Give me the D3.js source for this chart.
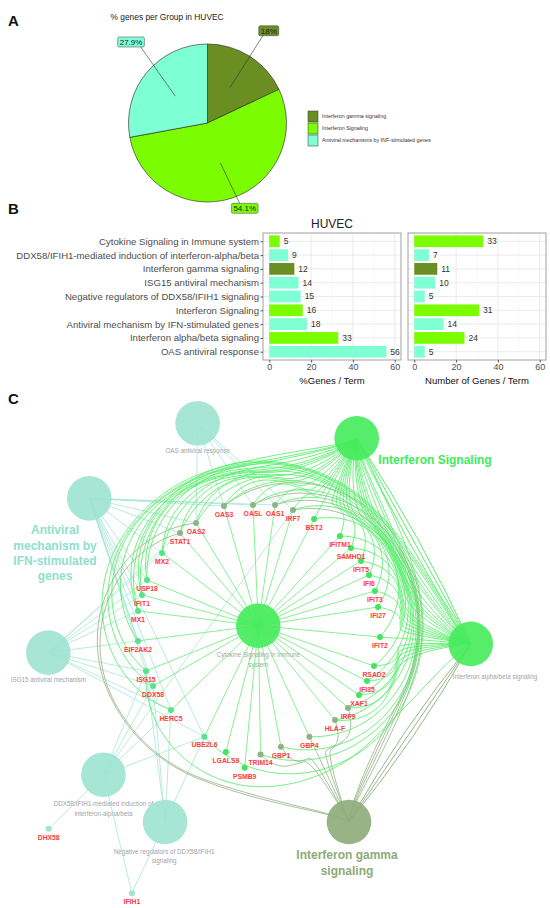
<!DOCTYPE html>
<html>
<head>
<meta charset="utf-8">
<script src="https://cdn.jsdelivr.net/npm/d3@7"></script>
<style>
	body { margin: 0; background: #fff; }
	svg { display: block; font-family: "Liberation Sans", Arial, sans-serif; }
</style>
</head>
<body>
<svg id="fig" width="550" height="908"></svg>
<script>
/* global d3 */

// ---- panel A : % genes per group ----
const groups = ['Interferon gamma signaling', 'Interferon Signaling', 'Antiviral mechanisms by INF-stimulated genes'];
const groupPct = [18, 54.1, 27.9];
const groupPctLabels = ['18%', '54.1%', '27.9%'];

// ---- panel B : enriched terms ----
const terms = [
	'Cytokine Signaling in Immune system',
	'DDX58/IFIH1-mediated induction of interferon-alpha/beta',
	'Interferon gamma signaling',
	'ISG15 antiviral mechanism',
	'Negative regulators of DDX58/IFIH1 signaling',
	'Interferon Signaling',
	'Antiviral mechanism by IFN-stimulated genes',
	'Interferon alpha/beta signaling',
	'OAS antiviral response',
];
const termGroup = [1, 2, 0, 2, 2, 1, 2, 1, 2]; // index into groups
const pctGenes = [5, 9, 12, 14, 15, 16, 18, 33, 56];
const nGenes = [33, 7, 11, 10, 5, 31, 14, 24, 5];
const xTicks = [0, 20, 40, 60];

// ---- panel C : term / gene network ----
const genes = ['OAS3', 'OASL', 'OAS1', 'IRF7', 'BST2', 'IFITM1', 'SAMHD1', 'IFIT5', 'IFI6', 'IFIT3', 'IFI27',
	'IFIT2', 'RSAD2', 'IFI35', 'XAF1', 'IRF9', 'HLA-F', 'GBP4', 'GBP1', 'TRIM14', 'PSMB9', 'LGALS9', 'UBE2L6',
	'HERC5', 'DDX58', 'ISG15', 'EIF2AK2', 'MX1', 'IFIT1', 'USP18', 'MX2', 'STAT1', 'OAS2', 'DHX58', 'IFIH1'];

const cytokineGenes = ['OAS3', 'OASL', 'OAS1', 'IRF7', 'BST2', 'IFITM1', 'SAMHD1', 'IFIT5', 'IFI6', 'IFIT3', 'IFI27',
	'IFIT2', 'RSAD2', 'IFI35', 'XAF1', 'IRF9', 'HLA-F', 'GBP4', 'GBP1', 'TRIM14', 'PSMB9', 'LGALS9', 'UBE2L6',
	'HERC5', 'DDX58', 'ISG15', 'EIF2AK2', 'MX1', 'IFIT1', 'USP18', 'MX2', 'STAT1', 'OAS2'];
const ddx58InductionGenes = ['DDX58', 'IFIH1', 'DHX58', 'ISG15', 'IRF7', 'UBE2L6', 'HERC5'];
const ifnGammaGenes = ['OAS1', 'OAS2', 'OAS3', 'OASL', 'IRF7', 'IRF9', 'HLA-F', 'GBP1', 'GBP4', 'TRIM14', 'STAT1'];
const isg15Genes = ['ISG15', 'EIF2AK2', 'MX1', 'MX2', 'USP18', 'IFIT1', 'DDX58', 'HERC5', 'UBE2L6', 'STAT1'];
const negRegGenes = ['DDX58', 'IFIH1', 'ISG15', 'UBE2L6', 'HERC5'];
const ifnSignalingGenes = ['OAS3', 'OASL', 'OAS1', 'IRF7', 'BST2', 'IFITM1', 'SAMHD1', 'IFIT5', 'IFI6', 'IFIT3', 'IFI27',
	'IFIT2', 'RSAD2', 'IFI35', 'XAF1', 'IRF9', 'HLA-F', 'GBP4', 'GBP1', 'TRIM14', 'UBE2L6',
	'HERC5', 'DDX58', 'ISG15', 'EIF2AK2', 'MX1', 'IFIT1', 'USP18', 'MX2', 'STAT1', 'OAS2'];
const antiviralGenes = ['ISG15', 'EIF2AK2', 'MX1', 'MX2', 'OAS1', 'OAS2', 'OAS3', 'OASL', 'USP18', 'IFIT1', 'DDX58',
	'HERC5', 'UBE2L6', 'STAT1'];
const ifnAlphaBetaGenes = ['BST2', 'IFI27', 'IFI35', 'IFI6', 'IFIT1', 'IFIT2', 'IFIT3', 'IFIT5', 'IFITM1', 'IRF7', 'IRF9',
	'ISG15', 'MX1', 'MX2', 'OAS1', 'OAS2', 'OAS3', 'OASL', 'RSAD2', 'SAMHD1', 'STAT1', 'USP18', 'XAF1', 'HLA-F'];
const oasGenes = ['OAS1', 'OAS2', 'OAS3', 'OASL', 'IRF7'];
const termMembers = [cytokineGenes, ddx58InductionGenes, ifnGammaGenes, isg15Genes, negRegGenes,
	ifnSignalingGenes, antiviralGenes, ifnAlphaBetaGenes, oasGenes];
const termLinks = [[5, 7], [7, 2]];

// ---- layout (polar, degrees clockwise from 12 o'clock) ----
const geneAngle = [344.0, 357.5, 7.9, 16.7, 27.6, 42.3, 50.0, 57.8, 65.4, 73.4, 81.1, 95.3, 109.2, 117.0, 124.5,
	132.5, 140.9, 155.3, 169.4, 179.0, 185.5, 194.4, 205.9, 226.0, 240.2, 248.0, 262.8, 277.0, 284.8, 292.3,
	307.1, 319.8, 328.8, 225.9, 205.3];
const geneRadius = [124.5, 120.8, 121.9, 120.8, 120.4, 121.3, 121, 121.4, 121.8, 121.7, 121.2, 122.2, 122.5, 122,
	122.2, 121.7, 121.6, 122.2, 123.2, 128.8, 142.7, 130.4, 123.4, 121.4, 121.3, 121.1, 121.3, 121.2, 120.3, 120.3,
	120.7, 121.3, 120.1, 291.9, 295.8];
const hubAngle = [0, 226.1, 155.2, 262.7, 205.4, 27.7, 307.0, 94.9, 343.3];
const hubRadius = [0, 214.9, 216.2, 211.7, 217.3, 211.7, 211.6, 213.2, 211.3];
const hubLabelLines = [['Cytokine Signaling in Immune', 'system'], ['DDX58/IFIH1-mediated induction of', 'interferon-alpha/beta'],
	['Interferon gamma', 'signaling'], ['ISG15 antiviral mechanism'], ['Negative regulators of DDX58/IFIH1', 'signaling'],
	['Interferon Signaling'], ['Antiviral', 'mechanism by', 'IFN-stimulated', 'genes'], ['Interferon alpha/beta signaling'],
	['OAS antiviral response']];
const hubBigLabel = [false, false, true, false, false, true, true, false, false];
const hubLabelOffset = [[0, 31.6], [0, 31.2], [-2, 37.3], [0, 29.6], [-1, 31.7], [21.6, 26], [-34.3, 36], [24.3, 35.6], [0, 29.7]];

// ---- styles ----
const groupColors = ['#6b8e23', '#7cfc00', '#7fffd4'];
const netColors = ['#8fae7d', '#46ec5c', '#9fe3d1'];
const bigLabelColors = ['#8dab78', '#3fec5b', '#8fe0cb'];
const font = '"Liberation Sans", Arial, sans-serif';
const rad = Math.PI / 180;

const svg = d3.select('#fig');

// panel letters
[['A', 26.3], ['B', 214.3], ['C', 403.6]].forEach(([t, y]) => {
	svg.append('text').attr('x', 8).attr('y', y).attr('font-size', 15).attr('font-weight', 'bold')
		.attr('fill', '#111').text(t);
});

// ================= A : pie =================
const pieC = [207.5, 123];
const pieR = 79;
svg.append('text').attr('x', 110.5).attr('y', 19.8).attr('font-size', 8.4).attr('fill', '#222')
	.text('% genes per Group in HUVEC');

const slices = d3.pie().sort(null).value(d => d)(groupPct);
const gPie = svg.append('g').attr('transform', `translate(${pieC})`);
gPie.selectAll('path').data(slices).join('path')
	.attr('d', d3.arc().innerRadius(0).outerRadius(pieR))
	.attr('fill', (d, i) => groupColors[i])
	.attr('stroke', '#222').attr('stroke-width', 0.6);

const pieLabelRadius = [1.32, 1.1, 1.3];
const pieLabelTurn = [0, -4, 9];
slices.forEach((s, i) => {
	const mid = (s.startAngle + s.endAngle) / 2;
	const a = mid + pieLabelTurn[i] * rad;
	const p0 = d3.pointRadial(mid, pieR * 0.53);
	const p1 = d3.pointRadial(a, pieR * pieLabelRadius[i]);
	gPie.append('line').attr('x1', p0[0]).attr('y1', p0[1]).attr('x2', p1[0]).attr('y2', p1[1])
		.attr('stroke', '#333').attr('stroke-width', 0.6);
	const g = gPie.append('g');
	const txt = g.append('text').attr('font-size', 8).attr('fill', '#222').attr('text-anchor', 'middle')
		.attr('dy', '0.35em').text(groupPctLabels[i]);
	const w = txt.node().getComputedTextLength() + 4;
	const h = 10;
	const cx = p1[0] + Math.sin(a) * w / 2;
	const cy = p1[1] - Math.cos(a) * h / 2;
	g.insert('rect', 'text').attr('x', -w / 2).attr('y', -h / 2).attr('width', w).attr('height', h)
		.attr('rx', 1.5).attr('fill', groupColors[i]).attr('stroke', '#444').attr('stroke-width', 0.5);
	g.attr('transform', `translate(${cx},${cy})`);
});

const legend = svg.append('g').attr('transform', 'translate(308,111)');
groups.forEach((name, i) => {
	const row = legend.append('g').attr('transform', `translate(0,${i * 12})`);
	row.append('rect').attr('width', 10).attr('height', 11).attr('fill', groupColors[i])
		.attr('stroke', '#333').attr('stroke-width', 0.5);
	row.append('text').attr('x', 14).attr('y', 5.5).attr('dy', '0.35em').attr('font-size', 5.3)
		.attr('fill', '#333').text(name);
});

// ================= B : bars =================
const yB = d3.scalePoint().domain(terms).range([233, 360]).padding(0.6);
const barH = yB.step() * 0.85;
const barPanels = [
	{ x0: 263, x1: 401, values: pctGenes, title: '%Genes / Term' },
	{ x0: 408, x1: 546, values: nGenes, title: 'Number of Genes / Term' },
];
svg.append('text').attr('x', 332).attr('y', 228).attr('text-anchor', 'middle').attr('font-size', 12)
	.attr('fill', '#222').text('HUVEC');

barPanels.forEach((pn, pi) => {
	const x = d3.scaleLinear().domain([-3, 63]).range([pn.x0, pn.x1]);
	const g = svg.append('g');
	[10, 30, 50].forEach(v => g.append('line').attr('x1', x(v)).attr('x2', x(v)).attr('y1', 233).attr('y2', 360)
		.attr('stroke', '#f3f3f3').attr('stroke-width', 0.5));
	xTicks.forEach(v => g.append('line').attr('x1', x(v)).attr('x2', x(v)).attr('y1', 233).attr('y2', 360)
		.attr('stroke', '#e6e6e6').attr('stroke-width', 0.8));
	terms.forEach(t => g.append('line').attr('x1', pn.x0).attr('x2', pn.x1).attr('y1', yB(t)).attr('y2', yB(t))
		.attr('stroke', '#e6e6e6').attr('stroke-width', 0.8));

	g.selectAll('rect.bar').data(terms).join('rect').attr('class', 'bar')
		.attr('x', x(0)).attr('y', t => yB(t) - barH / 2)
		.attr('width', (t, i) => x(pn.values[i]) - x(0)).attr('height', barH)
		.attr('fill', (t, i) => groupColors[termGroup[i]]);
	g.selectAll('text.val').data(terms).join('text').attr('class', 'val')
		.attr('x', (t, i) => x(pn.values[i]) + 4).attr('y', t => yB(t)).attr('dy', '0.35em')
		.attr('font-size', 8.5).attr('fill', '#333').text((t, i) => pn.values[i]);

	g.append('rect').attr('x', pn.x0).attr('y', 233).attr('width', pn.x1 - pn.x0).attr('height', 127)
		.attr('fill', 'none').attr('stroke', '#a0a0a0').attr('stroke-width', 1);

	const ax = g.append('g').attr('transform', 'translate(0,360)')
		.call(d3.axisBottom(x).tickValues(xTicks).tickSize(2.5).tickPadding(1.5));
	ax.select('.domain').remove();
	ax.selectAll('line').attr('stroke', '#555');
	ax.selectAll('text').attr('font-size', 9).attr('fill', '#4d4d4d').attr('font-family', font);

	g.append('text').attr('x', (pn.x0 + pn.x1) / 2).attr('y', 383.5).attr('text-anchor', 'middle')
		.attr('font-size', 9.5).attr('fill', '#111').text(pn.title);

	if (pi === 0) {
		const ay = g.append('g').attr('transform', `translate(${pn.x0},0)`)
			.call(d3.axisLeft(yB).tickSize(2.5).tickPadding(1.5));
		ay.select('.domain').remove();
		ay.selectAll('line').attr('stroke', '#555');
		ay.selectAll('text').attr('font-size', 9.6).attr('fill', '#4d4d4d').attr('font-family', font);
	}
});

// ================= C : network =================
const netCenter = [258.3, 625.7];
const hubR = 22.3;
const net = svg.append('g').attr('transform', `translate(${netCenter})`);

const hubPos = terms.map((t, i) => d3.pointRadial(hubAngle[i] * rad, hubRadius[i]));
const genePos = new Map(genes.map((g, i) => [g, {
	a: geneAngle[i], r: geneRadius[i], p: d3.pointRadial(geneAngle[i] * rad, geneRadius[i]),
}]));
const curved = terms.map((t, i) => i !== 0 && termGroup[i] !== 2);

const radialLine = d3.lineRadial().angle(d => d[0] * rad).radius(d => d[1]).curve(d3.curveBasis);
// curved edges run round the gene ring: drop in from the hub, travel along, hook onto the gene
const edgePath = (i, gene) => {
	const gp = genePos.get(gene);
	if (!curved[i]) { return d3.line()([hubPos[i], gp.p]); }
	const a0 = hubAngle[i];
	const r0 = hubRadius[i];
	const da = ((gp.a - a0 + 540) % 360) - 180;
	const rm = 140 + 0.14 * Math.abs(da);
	const pts = d3.range(41).map(k => {
		const t = k / 40;
		const u = 1 - Math.min(1, t / 0.35);
		const v = Math.max(0, (t - 0.6) / 0.4);
		const r = rm + (r0 - rm) * u * u + (gp.r - rm) * v * v;
		return [a0 + da * Math.pow(t, 1.25), r];
	});
	return radialLine(pts);
};

// hub captions sit under the edges
terms.forEach((t, i) => {
	if (hubBigLabel[i]) { return; }
	const [dx, dy] = hubLabelOffset[i];
	hubLabelLines[i].forEach((line, k) => {
		net.append('text').attr('x', hubPos[i][0] + dx).attr('y', hubPos[i][1] + dy + k * 9.7)
			.attr('text-anchor', 'middle').attr('font-size', 6.3).attr('fill', '#a3a3a3').text(line);
	});
});

const edges = [];
termMembers.forEach((list, i) => list.forEach(g => edges.push({ term: i, gene: g })));
const edgeOrder = e => (termGroup[e.term] === 2 ? 0 : termGroup[e.term] === 0 ? 1 : e.term === 0 ? 2 : 3);
edges.sort((a, b) => edgeOrder(a) - edgeOrder(b));

net.append('g').selectAll('path').data(edges).join('path')
	.attr('d', e => edgePath(e.term, e.gene))
	.attr('fill', 'none')
	.attr('stroke', e => (e.term === 0 ? '#63ea70' : netColors[termGroup[e.term]]))
	.attr('stroke-width', e => (termGroup[e.term] === 2 ? 0.8 : 0.85))
	.attr('stroke-opacity', 0.9);

// term-term bundles
termLinks.forEach(([s, t]) => {
	const [x0, y0] = hubPos[s];
	const [x1, y1] = hubPos[t];
	const len = Math.hypot(x1 - x0, y1 - y0);
	const nx = -(y1 - y0) / len;
	const ny = (x1 - x0) / len;
	[-3, 0, 3].forEach(o => {
		const p = d3.path();
		p.moveTo(x0, y0);
		p.quadraticCurveTo((x0 + x1) / 2 + nx * o * 3, (y0 + y1) / 2 + ny * o * 3, x1, y1);
		net.append('path').attr('d', p.toString()).attr('fill', 'none')
			.attr('stroke', netColors[termGroup[t === 2 ? 2 : s]]).attr('stroke-width', 0.9);
	});
});

// hubs
net.selectAll('circle.hub').data(terms).join('circle').attr('class', 'hub')
	.attr('cx', (t, i) => hubPos[i][0]).attr('cy', (t, i) => hubPos[i][1]).attr('r', hubR)
	.attr('fill', (t, i) => netColors[termGroup[i]]).attr('fill-opacity', 0.92);

// genes
const geneColor = g => {
	if (ifnGammaGenes.includes(g)) { return '#8cb488'; }
	if (!cytokineGenes.includes(g)) { return netColors[2]; }
	if (isg15Genes.includes(g)) { return '#56e38c'; }
	return '#44e45e';
};
net.selectAll('circle.gene').data(genes).join('circle').attr('class', 'gene')
	.attr('cx', g => genePos.get(g).p[0]).attr('cy', g => genePos.get(g).p[1]).attr('r', 3)
	.attr('fill', geneColor);
net.selectAll('text.gene').data(genes).join('text').attr('class', 'gene')
	.attr('x', g => genePos.get(g).p[0]).attr('y', g => genePos.get(g).p[1] + 10.8)
	.attr('text-anchor', 'middle').attr('font-size', 6.8).attr('font-weight', 'bold')
	.attr('fill', '#ff3b3b').text(g => g);

// big hub captions
terms.forEach((t, i) => {
	if (!hubBigLabel[i]) { return; }
	const [dx, dy] = hubLabelOffset[i];
	const lines = hubLabelLines[i];
	const spacing = lines.length > 2 ? 15.3 : 16;
	lines.forEach((line, k) => {
		net.append('text').attr('x', hubPos[i][0] + dx).attr('y', hubPos[i][1] + dy + k * spacing)
			.attr('text-anchor', i === 5 ? 'start' : 'middle')
			.attr('font-size', 12).attr('font-weight', 'bold')
			.attr('fill', bigLabelColors[termGroup[i]]).text(line);
	});
});
</script>
</body>
</html>
